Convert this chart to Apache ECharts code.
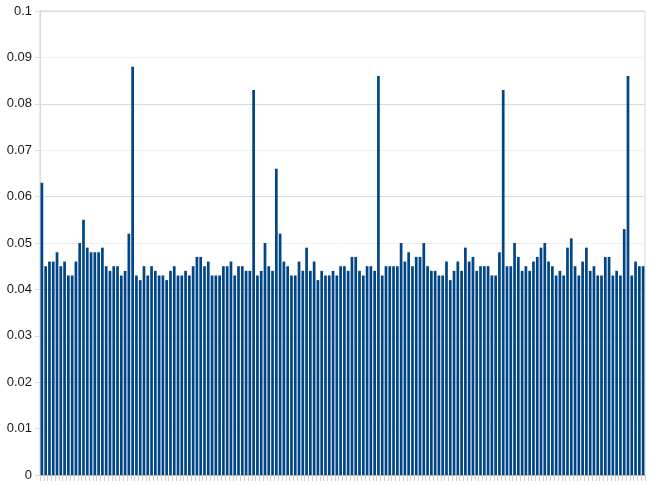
<!DOCTYPE html>
<html>
<head>
<meta charset="utf-8">
<script src="https://cdn.jsdelivr.net/npm/echarts@6/dist/echarts.min.js"></script>
<style>html,body{margin:0;padding:0;background:#fff}#c{width:653px;height:485px}</style>
</head>
<body>
<div id="c"></div>
<script>
var values = [
0.063,0.045,0.046,0.046,0.048,0.045,0.046,0.043,0.043,0.046,
0.050,0.055,0.049,0.048,0.048,0.048,0.049,0.045,0.044,0.045,
0.045,0.043,0.044,0.052,0.088,0.043,0.042,0.045,0.043,0.045,
0.044,0.043,0.043,0.042,0.044,0.045,0.043,0.043,0.044,0.043,
0.045,0.047,0.047,0.045,0.046,0.043,0.043,0.043,0.045,0.045,
0.046,0.043,0.045,0.045,0.044,0.044,0.083,0.043,0.044,0.050,
0.045,0.044,0.066,0.052,0.046,0.045,0.043,0.043,0.046,0.044,
0.049,0.044,0.046,0.042,0.044,0.043,0.043,0.044,0.043,0.045,
0.045,0.044,0.047,0.047,0.044,0.043,0.045,0.045,0.044,0.086,
0.043,0.045,0.045,0.045,0.045,0.050,0.046,0.048,0.045,0.047,
0.047,0.050,0.045,0.044,0.044,0.043,0.043,0.046,0.042,0.044,
0.046,0.044,0.049,0.046,0.047,0.044,0.045,0.045,0.045,0.043,
0.043,0.048,0.083,0.045,0.045,0.050,0.047,0.044,0.045,0.044,
0.046,0.047,0.049,0.050,0.046,0.045,0.043,0.044,0.043,0.049,
0.051,0.045,0.043,0.046,0.049,0.044,0.045,0.043,0.043,0.047,
0.047,0.043,0.044,0.043,0.053,0.086,0.043,0.046,0.045,0.045
];
var categories = values.map(function(v, i){ return String(i + 1); });
var yMin = 0, yMax = 0.1, yStep = 0.01;

var chart = echarts.init(document.getElementById('c'), null, {renderer: 'canvas'});
chart.setOption({
  animation: false,
  backgroundColor: '#ffffff',
  grid: {left: 40, right: 8, top: 11, bottom: 10, show: true, borderColor: '#d9d9d9', borderWidth: 1},
  xAxis: {
    type: 'category',
    data: categories,
    boundaryGap: true,
    axisLine: {lineStyle: {color: '#b3b3b3'}},
    axisTick: {show: true, interval: 0, length: 6, lineStyle: {color: '#cfcfcf'}},
    axisLabel: {show: false},
    splitLine: {show: false}
  },
  yAxis: {
    type: 'value',
    min: yMin, max: yMax, interval: yStep,
    axisLine: {show: true, lineStyle: {color: '#d9d9d9'}},
    axisTick: {show: true, length: 5, lineStyle: {color: '#d9d9d9'}},
    axisLabel: {
      color: '#1a1a1a', fontFamily: 'Liberation Sans', fontSize: 13, margin: 8,
      formatter: function(v){ return String(Math.round(v * 1000) / 1000); }
    },
    splitLine: {show: true, lineStyle: {color: ['#d9d9d9', '#f0f0f0'], width: 1}}
  },
  series: [{
    type: 'bar',
    data: values,
    barCategoryGap: '28%',
    itemStyle: {color: '#004586'}
  }]
});
</script>
</body>
</html>
